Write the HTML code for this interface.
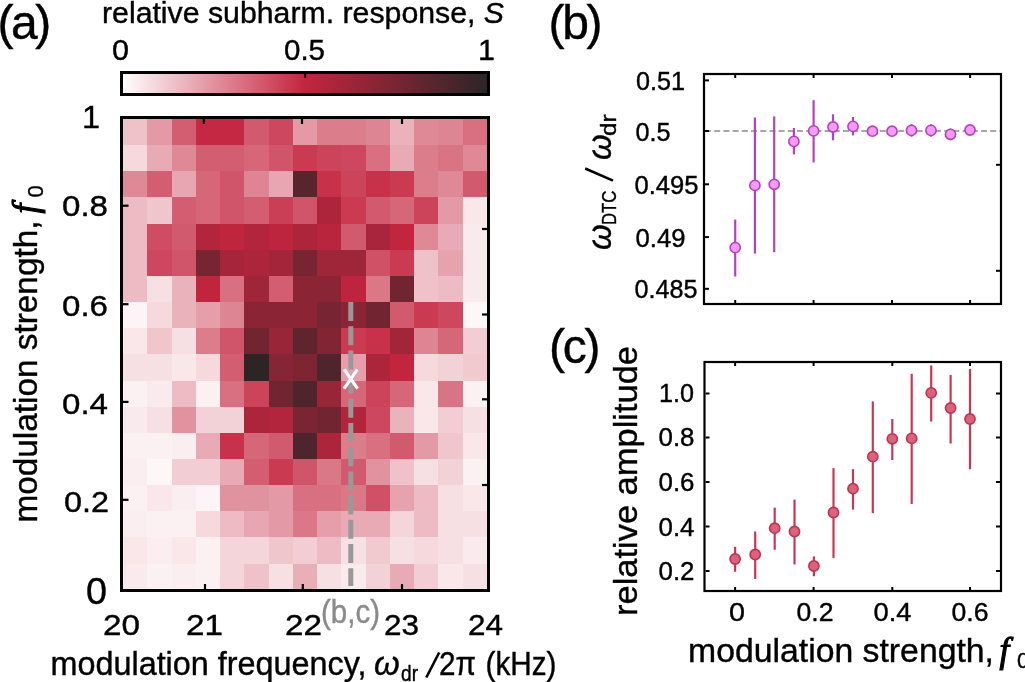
<!DOCTYPE html>
<html><head><meta charset="utf-8">
<style>
html,body{margin:0;padding:0;background:#fff;width:1025px;height:682px;overflow:hidden}
svg{display:block;will-change:transform}
text{font-family:"Liberation Sans",sans-serif;fill:#000;stroke:#000;stroke-width:0.4px}
</style></head><body>
<svg width="1025" height="682" viewBox="0 0 1025 682">
<defs>
<linearGradient id="cb" x1="0" y1="0" x2="1" y2="0">
<stop offset="0.00" stop-color="#ffffff"/>
<stop offset="0.10" stop-color="#f3d3d9"/>
<stop offset="0.20" stop-color="#e7a8b2"/>
<stop offset="0.30" stop-color="#dc7c8c"/>
<stop offset="0.40" stop-color="#d05165"/>
<stop offset="0.50" stop-color="#c4253f"/>
<stop offset="0.60" stop-color="#a5253a"/>
<stop offset="0.70" stop-color="#872535"/>
<stop offset="0.80" stop-color="#682530"/>
<stop offset="0.90" stop-color="#4a252b"/>
<stop offset="1.00" stop-color="#2b2526"/>
</linearGradient>
</defs>
<!-- panel a -->
<text x="-2.5" y="39" font-size="48" letter-spacing="-2.5">(a)</text>
<text x="102" y="22.5" font-size="30" textLength="402" lengthAdjust="spacingAndGlyphs">relative subharm. response, <tspan font-style="italic">S</tspan></text>
<text x="112" y="59.5" font-size="30" textLength="17" lengthAdjust="spacingAndGlyphs">0</text>
<text x="284" y="59.5" font-size="30" textLength="41" lengthAdjust="spacingAndGlyphs">0.5</text>
<text x="478" y="59.5" font-size="30" textLength="17" lengthAdjust="spacingAndGlyphs">1</text>
<rect x="121.5" y="72.5" width="367" height="22" fill="url(#cb)" stroke="#000" stroke-width="3"/>
<line x1="305.2" y1="74" x2="305.2" y2="78" stroke="#000" stroke-width="2"/>

<g shape-rendering="crispEdges">
<rect x="123.00" y="119.00" width="24.67" height="26.55" fill="#efc2ca"/>
<rect x="147.27" y="119.00" width="24.67" height="26.55" fill="#e49aa6"/>
<rect x="171.53" y="119.00" width="24.67" height="26.55" fill="#d35e71"/>
<rect x="195.80" y="119.00" width="24.67" height="26.55" fill="#c52842"/>
<rect x="220.07" y="119.00" width="24.67" height="26.55" fill="#c52842"/>
<rect x="244.33" y="119.00" width="24.67" height="26.55" fill="#d25a6e"/>
<rect x="268.60" y="119.00" width="24.67" height="26.55" fill="#cd485e"/>
<rect x="292.87" y="119.00" width="24.67" height="26.55" fill="#e49aa6"/>
<rect x="317.13" y="119.00" width="24.67" height="26.55" fill="#dc7d8c"/>
<rect x="341.40" y="119.00" width="24.67" height="26.55" fill="#dc7d8c"/>
<rect x="365.67" y="119.00" width="24.67" height="26.55" fill="#de8594"/>
<rect x="389.93" y="119.00" width="24.67" height="26.55" fill="#eab3bc"/>
<rect x="414.20" y="119.00" width="24.67" height="26.55" fill="#df8997"/>
<rect x="438.47" y="119.00" width="24.67" height="26.55" fill="#de8594"/>
<rect x="462.73" y="119.00" width="24.67" height="26.55" fill="#d87081"/>
<rect x="123.00" y="145.15" width="24.67" height="26.55" fill="#f5d9dd"/>
<rect x="147.27" y="145.15" width="24.67" height="26.55" fill="#e8abb5"/>
<rect x="171.53" y="145.15" width="24.67" height="26.55" fill="#df8997"/>
<rect x="195.80" y="145.15" width="24.67" height="26.55" fill="#d35e71"/>
<rect x="220.07" y="145.15" width="24.67" height="26.55" fill="#d35e71"/>
<rect x="244.33" y="145.15" width="24.67" height="26.55" fill="#d66779"/>
<rect x="268.60" y="145.15" width="24.67" height="26.55" fill="#d1556a"/>
<rect x="292.87" y="145.15" width="24.67" height="26.55" fill="#ca3b52"/>
<rect x="317.13" y="145.15" width="24.67" height="26.55" fill="#cc445a"/>
<rect x="341.40" y="145.15" width="24.67" height="26.55" fill="#cd485e"/>
<rect x="365.67" y="145.15" width="24.67" height="26.55" fill="#d87081"/>
<rect x="389.93" y="145.15" width="24.67" height="26.55" fill="#e8abb5"/>
<rect x="414.20" y="145.15" width="24.67" height="26.55" fill="#dc7d8c"/>
<rect x="438.47" y="145.15" width="24.67" height="26.55" fill="#d97485"/>
<rect x="462.73" y="145.15" width="24.67" height="26.55" fill="#df8997"/>
<rect x="123.00" y="171.30" width="24.67" height="26.55" fill="#df8997"/>
<rect x="147.27" y="171.30" width="24.67" height="26.55" fill="#d35e71"/>
<rect x="171.53" y="171.30" width="24.67" height="26.55" fill="#e7a6b1"/>
<rect x="195.80" y="171.30" width="24.67" height="26.55" fill="#d66779"/>
<rect x="220.07" y="171.30" width="24.67" height="26.55" fill="#d1556a"/>
<rect x="244.33" y="171.30" width="24.67" height="26.55" fill="#de8594"/>
<rect x="268.60" y="171.30" width="24.67" height="26.55" fill="#e7a6b1"/>
<rect x="292.87" y="171.30" width="24.67" height="26.55" fill="#58252d"/>
<rect x="317.13" y="171.30" width="24.67" height="26.55" fill="#c7314a"/>
<rect x="341.40" y="171.30" width="24.67" height="26.55" fill="#cc445a"/>
<rect x="365.67" y="171.30" width="24.67" height="26.55" fill="#c7314a"/>
<rect x="389.93" y="171.30" width="24.67" height="26.55" fill="#ca3b52"/>
<rect x="414.20" y="171.30" width="24.67" height="26.55" fill="#dc7d8c"/>
<rect x="438.47" y="171.30" width="24.67" height="26.55" fill="#df8997"/>
<rect x="462.73" y="171.30" width="24.67" height="26.55" fill="#d25a6e"/>
<rect x="123.00" y="197.45" width="24.67" height="26.55" fill="#ecbbc3"/>
<rect x="147.27" y="197.45" width="24.67" height="26.55" fill="#f0c6cd"/>
<rect x="171.53" y="197.45" width="24.67" height="26.55" fill="#d35e71"/>
<rect x="195.80" y="197.45" width="24.67" height="26.55" fill="#d66779"/>
<rect x="220.07" y="197.45" width="24.67" height="26.55" fill="#d1556a"/>
<rect x="244.33" y="197.45" width="24.67" height="26.55" fill="#d35e71"/>
<rect x="268.60" y="197.45" width="24.67" height="26.55" fill="#cb3f56"/>
<rect x="292.87" y="197.45" width="24.67" height="26.55" fill="#d1556a"/>
<rect x="317.13" y="197.45" width="24.67" height="26.55" fill="#ac253b"/>
<rect x="341.40" y="197.45" width="24.67" height="26.55" fill="#ca3b52"/>
<rect x="365.67" y="197.45" width="24.67" height="26.55" fill="#d25a6e"/>
<rect x="389.93" y="197.45" width="24.67" height="26.55" fill="#d66779"/>
<rect x="414.20" y="197.45" width="24.67" height="26.55" fill="#cc445a"/>
<rect x="438.47" y="197.45" width="24.67" height="26.55" fill="#e49aa6"/>
<rect x="462.73" y="197.45" width="24.67" height="26.55" fill="#f9e7ea"/>
<rect x="123.00" y="223.60" width="24.67" height="26.55" fill="#ecbbc3"/>
<rect x="147.27" y="223.60" width="24.67" height="26.55" fill="#cf4c62"/>
<rect x="171.53" y="223.60" width="24.67" height="26.55" fill="#d25a6e"/>
<rect x="195.80" y="223.60" width="24.67" height="26.55" fill="#b3253c"/>
<rect x="220.07" y="223.60" width="24.67" height="26.55" fill="#c0253e"/>
<rect x="244.33" y="223.60" width="24.67" height="26.55" fill="#b3253c"/>
<rect x="268.60" y="223.60" width="24.67" height="26.55" fill="#bd253e"/>
<rect x="292.87" y="223.60" width="24.67" height="26.55" fill="#ac253b"/>
<rect x="317.13" y="223.60" width="24.67" height="26.55" fill="#b9253d"/>
<rect x="341.40" y="223.60" width="24.67" height="26.55" fill="#d25a6e"/>
<rect x="365.67" y="223.60" width="24.67" height="26.55" fill="#a9253b"/>
<rect x="389.93" y="223.60" width="24.67" height="26.55" fill="#c3253f"/>
<rect x="414.20" y="223.60" width="24.67" height="26.55" fill="#df8997"/>
<rect x="438.47" y="223.60" width="24.67" height="26.55" fill="#e8abb5"/>
<rect x="462.73" y="223.60" width="24.67" height="26.55" fill="#f9ebed"/>
<rect x="123.00" y="249.75" width="24.67" height="26.55" fill="#ecbbc3"/>
<rect x="147.27" y="249.75" width="24.67" height="26.55" fill="#cd485e"/>
<rect x="171.53" y="249.75" width="24.67" height="26.55" fill="#d1556a"/>
<rect x="195.80" y="249.75" width="24.67" height="26.55" fill="#772532"/>
<rect x="220.07" y="249.75" width="24.67" height="26.55" fill="#a6253a"/>
<rect x="244.33" y="249.75" width="24.67" height="26.55" fill="#ac253b"/>
<rect x="268.60" y="249.75" width="24.67" height="26.55" fill="#a3253a"/>
<rect x="292.87" y="249.75" width="24.67" height="26.55" fill="#772532"/>
<rect x="317.13" y="249.75" width="24.67" height="26.55" fill="#9f2539"/>
<rect x="341.40" y="249.75" width="24.67" height="26.55" fill="#9f2539"/>
<rect x="365.67" y="249.75" width="24.67" height="26.55" fill="#d05166"/>
<rect x="389.93" y="249.75" width="24.67" height="26.55" fill="#ca3b52"/>
<rect x="414.20" y="249.75" width="24.67" height="26.55" fill="#efc2ca"/>
<rect x="438.47" y="249.75" width="24.67" height="26.55" fill="#e6a2ad"/>
<rect x="462.73" y="249.75" width="24.67" height="26.55" fill="#f9ebed"/>
<rect x="123.00" y="275.90" width="24.67" height="26.55" fill="#ecbbc3"/>
<rect x="147.27" y="275.90" width="24.67" height="26.55" fill="#f7e0e4"/>
<rect x="171.53" y="275.90" width="24.67" height="26.55" fill="#eab3bc"/>
<rect x="195.80" y="275.90" width="24.67" height="26.55" fill="#c0253e"/>
<rect x="220.07" y="275.90" width="24.67" height="26.55" fill="#d87081"/>
<rect x="244.33" y="275.90" width="24.67" height="26.55" fill="#9f2539"/>
<rect x="268.60" y="275.90" width="24.67" height="26.55" fill="#d35e71"/>
<rect x="292.87" y="275.90" width="24.67" height="26.55" fill="#8b2536"/>
<rect x="317.13" y="275.90" width="24.67" height="26.55" fill="#8b2536"/>
<rect x="341.40" y="275.90" width="24.67" height="26.55" fill="#bd253e"/>
<rect x="365.67" y="275.90" width="24.67" height="26.55" fill="#db7888"/>
<rect x="389.93" y="275.90" width="24.67" height="26.55" fill="#702531"/>
<rect x="414.20" y="275.90" width="24.67" height="26.55" fill="#efc2ca"/>
<rect x="438.47" y="275.90" width="24.67" height="26.55" fill="#ecbbc3"/>
<rect x="462.73" y="275.90" width="24.67" height="26.55" fill="#f9ebed"/>
<rect x="123.00" y="302.05" width="24.67" height="26.55" fill="#fcf4f6"/>
<rect x="147.27" y="302.05" width="24.67" height="26.55" fill="#f5d9dd"/>
<rect x="171.53" y="302.05" width="24.67" height="26.55" fill="#eab3bc"/>
<rect x="195.80" y="302.05" width="24.67" height="26.55" fill="#e59eaa"/>
<rect x="220.07" y="302.05" width="24.67" height="26.55" fill="#de8594"/>
<rect x="244.33" y="302.05" width="24.67" height="26.55" fill="#8b2536"/>
<rect x="268.60" y="302.05" width="24.67" height="26.55" fill="#8b2536"/>
<rect x="292.87" y="302.05" width="24.67" height="26.55" fill="#8b2536"/>
<rect x="317.13" y="302.05" width="24.67" height="26.55" fill="#772532"/>
<rect x="341.40" y="302.05" width="24.67" height="26.55" fill="#8b2536"/>
<rect x="365.67" y="302.05" width="24.67" height="26.55" fill="#702531"/>
<rect x="389.93" y="302.05" width="24.67" height="26.55" fill="#d25a6e"/>
<rect x="414.20" y="302.05" width="24.67" height="26.55" fill="#ca3b52"/>
<rect x="438.47" y="302.05" width="24.67" height="26.55" fill="#cd485e"/>
<rect x="462.73" y="302.05" width="24.67" height="26.55" fill="#fdf7f8"/>
<rect x="123.00" y="328.20" width="24.67" height="26.55" fill="#f9e7ea"/>
<rect x="147.27" y="328.20" width="24.67" height="26.55" fill="#f0c6cd"/>
<rect x="171.53" y="328.20" width="24.67" height="26.55" fill="#f7e0e4"/>
<rect x="195.80" y="328.20" width="24.67" height="26.55" fill="#dc7d8c"/>
<rect x="220.07" y="328.20" width="24.67" height="26.55" fill="#d1556a"/>
<rect x="244.33" y="328.20" width="24.67" height="26.55" fill="#702531"/>
<rect x="268.60" y="328.20" width="24.67" height="26.55" fill="#992538"/>
<rect x="292.87" y="328.20" width="24.67" height="26.55" fill="#5f252f"/>
<rect x="317.13" y="328.20" width="24.67" height="26.55" fill="#812534"/>
<rect x="341.40" y="328.20" width="24.67" height="26.55" fill="#ca3b52"/>
<rect x="365.67" y="328.20" width="24.67" height="26.55" fill="#c7314a"/>
<rect x="389.93" y="328.20" width="24.67" height="26.55" fill="#a3253a"/>
<rect x="414.20" y="328.20" width="24.67" height="26.55" fill="#de8594"/>
<rect x="438.47" y="328.20" width="24.67" height="26.55" fill="#d66779"/>
<rect x="462.73" y="328.20" width="24.67" height="26.55" fill="#f2ced4"/>
<rect x="123.00" y="354.35" width="24.67" height="26.55" fill="#f7e0e4"/>
<rect x="147.27" y="354.35" width="24.67" height="26.55" fill="#f7e0e4"/>
<rect x="171.53" y="354.35" width="24.67" height="26.55" fill="#f9e7ea"/>
<rect x="195.80" y="354.35" width="24.67" height="26.55" fill="#f5d9dd"/>
<rect x="220.07" y="354.35" width="24.67" height="26.55" fill="#d35e71"/>
<rect x="244.33" y="354.35" width="24.67" height="26.55" fill="#2b2526"/>
<rect x="268.60" y="354.35" width="24.67" height="26.55" fill="#852535"/>
<rect x="292.87" y="354.35" width="24.67" height="26.55" fill="#7e2534"/>
<rect x="317.13" y="354.35" width="24.67" height="26.55" fill="#4e252c"/>
<rect x="341.40" y="354.35" width="24.67" height="26.55" fill="#e59eaa"/>
<rect x="365.67" y="354.35" width="24.67" height="26.55" fill="#ac253b"/>
<rect x="389.93" y="354.35" width="24.67" height="26.55" fill="#c3253f"/>
<rect x="414.20" y="354.35" width="24.67" height="26.55" fill="#f5d9dd"/>
<rect x="438.47" y="354.35" width="24.67" height="26.55" fill="#f3d2d7"/>
<rect x="462.73" y="354.35" width="24.67" height="26.55" fill="#f1cad0"/>
<rect x="123.00" y="380.50" width="24.67" height="26.55" fill="#fbf1f3"/>
<rect x="147.27" y="380.50" width="24.67" height="26.55" fill="#f9ebed"/>
<rect x="171.53" y="380.50" width="24.67" height="26.55" fill="#ecbbc3"/>
<rect x="195.80" y="380.50" width="24.67" height="26.55" fill="#fbf1f3"/>
<rect x="220.07" y="380.50" width="24.67" height="26.55" fill="#d87081"/>
<rect x="244.33" y="380.50" width="24.67" height="26.55" fill="#cc445a"/>
<rect x="268.60" y="380.50" width="24.67" height="26.55" fill="#702531"/>
<rect x="292.87" y="380.50" width="24.67" height="26.55" fill="#4e252c"/>
<rect x="317.13" y="380.50" width="24.67" height="26.55" fill="#992538"/>
<rect x="341.40" y="380.50" width="24.67" height="26.55" fill="#d66779"/>
<rect x="365.67" y="380.50" width="24.67" height="26.55" fill="#cc445a"/>
<rect x="389.93" y="380.50" width="24.67" height="26.55" fill="#d66779"/>
<rect x="414.20" y="380.50" width="24.67" height="26.55" fill="#f9e7ea"/>
<rect x="438.47" y="380.50" width="24.67" height="26.55" fill="#d97485"/>
<rect x="462.73" y="380.50" width="24.67" height="26.55" fill="#fbf1f3"/>
<rect x="123.00" y="406.65" width="24.67" height="26.55" fill="#f9ebed"/>
<rect x="147.27" y="406.65" width="24.67" height="26.55" fill="#f7e0e4"/>
<rect x="171.53" y="406.65" width="24.67" height="26.55" fill="#e1929f"/>
<rect x="195.80" y="406.65" width="24.67" height="26.55" fill="#f3d2d7"/>
<rect x="220.07" y="406.65" width="24.67" height="26.55" fill="#f3d2d7"/>
<rect x="244.33" y="406.65" width="24.67" height="26.55" fill="#ac253b"/>
<rect x="268.60" y="406.65" width="24.67" height="26.55" fill="#b3253c"/>
<rect x="292.87" y="406.65" width="24.67" height="26.55" fill="#7a2533"/>
<rect x="317.13" y="406.65" width="24.67" height="26.55" fill="#702531"/>
<rect x="341.40" y="406.65" width="24.67" height="26.55" fill="#b3253c"/>
<rect x="365.67" y="406.65" width="24.67" height="26.55" fill="#cd485e"/>
<rect x="389.93" y="406.65" width="24.67" height="26.55" fill="#eab3bc"/>
<rect x="414.20" y="406.65" width="24.67" height="26.55" fill="#f9e7ea"/>
<rect x="438.47" y="406.65" width="24.67" height="26.55" fill="#f2ced4"/>
<rect x="462.73" y="406.65" width="24.67" height="26.55" fill="#f7e0e4"/>
<rect x="123.00" y="432.80" width="24.67" height="26.55" fill="#fbf1f3"/>
<rect x="147.27" y="432.80" width="24.67" height="26.55" fill="#fbf1f3"/>
<rect x="171.53" y="432.80" width="24.67" height="26.55" fill="#faeef0"/>
<rect x="195.80" y="432.80" width="24.67" height="26.55" fill="#e8abb5"/>
<rect x="220.07" y="432.80" width="24.67" height="26.55" fill="#c7314a"/>
<rect x="244.33" y="432.80" width="24.67" height="26.55" fill="#d66779"/>
<rect x="268.60" y="432.80" width="24.67" height="26.55" fill="#d25a6e"/>
<rect x="292.87" y="432.80" width="24.67" height="26.55" fill="#4e252c"/>
<rect x="317.13" y="432.80" width="24.67" height="26.55" fill="#ac253b"/>
<rect x="341.40" y="432.80" width="24.67" height="26.55" fill="#dc7d8c"/>
<rect x="365.67" y="432.80" width="24.67" height="26.55" fill="#d87081"/>
<rect x="389.93" y="432.80" width="24.67" height="26.55" fill="#d25a6e"/>
<rect x="414.20" y="432.80" width="24.67" height="26.55" fill="#e49aa6"/>
<rect x="438.47" y="432.80" width="24.67" height="26.55" fill="#f0c6cd"/>
<rect x="462.73" y="432.80" width="24.67" height="26.55" fill="#f9e7ea"/>
<rect x="123.00" y="458.95" width="24.67" height="26.55" fill="#faeef0"/>
<rect x="147.27" y="458.95" width="24.67" height="26.55" fill="#fdf7f8"/>
<rect x="171.53" y="458.95" width="24.67" height="26.55" fill="#f2ced4"/>
<rect x="195.80" y="458.95" width="24.67" height="26.55" fill="#f2ced4"/>
<rect x="220.07" y="458.95" width="24.67" height="26.55" fill="#e8abb5"/>
<rect x="244.33" y="458.95" width="24.67" height="26.55" fill="#d35e71"/>
<rect x="268.60" y="458.95" width="24.67" height="26.55" fill="#ca3b52"/>
<rect x="292.87" y="458.95" width="24.67" height="26.55" fill="#d1556a"/>
<rect x="317.13" y="458.95" width="24.67" height="26.55" fill="#db7888"/>
<rect x="341.40" y="458.95" width="24.67" height="26.55" fill="#d25a6e"/>
<rect x="365.67" y="458.95" width="24.67" height="26.55" fill="#e1929f"/>
<rect x="389.93" y="458.95" width="24.67" height="26.55" fill="#efc2ca"/>
<rect x="414.20" y="458.95" width="24.67" height="26.55" fill="#f7e0e4"/>
<rect x="438.47" y="458.95" width="24.67" height="26.55" fill="#f3d2d7"/>
<rect x="462.73" y="458.95" width="24.67" height="26.55" fill="#fbf1f3"/>
<rect x="123.00" y="485.10" width="24.67" height="26.55" fill="#fbf1f3"/>
<rect x="147.27" y="485.10" width="24.67" height="26.55" fill="#f9e7ea"/>
<rect x="171.53" y="485.10" width="24.67" height="26.55" fill="#faeef0"/>
<rect x="195.80" y="485.10" width="24.67" height="26.55" fill="#fcf4f6"/>
<rect x="220.07" y="485.10" width="24.67" height="26.55" fill="#e1929f"/>
<rect x="244.33" y="485.10" width="24.67" height="26.55" fill="#e1929f"/>
<rect x="268.60" y="485.10" width="24.67" height="26.55" fill="#e49aa6"/>
<rect x="292.87" y="485.10" width="24.67" height="26.55" fill="#d87081"/>
<rect x="317.13" y="485.10" width="24.67" height="26.55" fill="#d87081"/>
<rect x="341.40" y="485.10" width="24.67" height="26.55" fill="#db7888"/>
<rect x="365.67" y="485.10" width="24.67" height="26.55" fill="#d05166"/>
<rect x="389.93" y="485.10" width="24.67" height="26.55" fill="#e6a2ad"/>
<rect x="414.20" y="485.10" width="24.67" height="26.55" fill="#ecbbc3"/>
<rect x="438.47" y="485.10" width="24.67" height="26.55" fill="#f7e0e4"/>
<rect x="462.73" y="485.10" width="24.67" height="26.55" fill="#f9e7ea"/>
<rect x="123.00" y="511.25" width="24.67" height="26.55" fill="#faeef0"/>
<rect x="147.27" y="511.25" width="24.67" height="26.55" fill="#fbf1f3"/>
<rect x="171.53" y="511.25" width="24.67" height="26.55" fill="#fbf1f3"/>
<rect x="195.80" y="511.25" width="24.67" height="26.55" fill="#f5d9dd"/>
<rect x="220.07" y="511.25" width="24.67" height="26.55" fill="#ecbbc3"/>
<rect x="244.33" y="511.25" width="24.67" height="26.55" fill="#e7a6b1"/>
<rect x="268.60" y="511.25" width="24.67" height="26.55" fill="#e49aa6"/>
<rect x="292.87" y="511.25" width="24.67" height="26.55" fill="#db7888"/>
<rect x="317.13" y="511.25" width="24.67" height="26.55" fill="#e59eaa"/>
<rect x="341.40" y="511.25" width="24.67" height="26.55" fill="#e8abb5"/>
<rect x="365.67" y="511.25" width="24.67" height="26.55" fill="#e8abb5"/>
<rect x="389.93" y="511.25" width="24.67" height="26.55" fill="#f4d5da"/>
<rect x="414.20" y="511.25" width="24.67" height="26.55" fill="#ecbbc3"/>
<rect x="438.47" y="511.25" width="24.67" height="26.55" fill="#f7e0e4"/>
<rect x="462.73" y="511.25" width="24.67" height="26.55" fill="#f7e0e4"/>
<rect x="123.00" y="537.40" width="24.67" height="26.55" fill="#f9e7ea"/>
<rect x="147.27" y="537.40" width="24.67" height="26.55" fill="#faeef0"/>
<rect x="171.53" y="537.40" width="24.67" height="26.55" fill="#f9e7ea"/>
<rect x="195.80" y="537.40" width="24.67" height="26.55" fill="#fbf1f3"/>
<rect x="220.07" y="537.40" width="24.67" height="26.55" fill="#f4d5da"/>
<rect x="244.33" y="537.40" width="24.67" height="26.55" fill="#f4d5da"/>
<rect x="268.60" y="537.40" width="24.67" height="26.55" fill="#f0c6cd"/>
<rect x="292.87" y="537.40" width="24.67" height="26.55" fill="#f2ced4"/>
<rect x="317.13" y="537.40" width="24.67" height="26.55" fill="#ecbbc3"/>
<rect x="341.40" y="537.40" width="24.67" height="26.55" fill="#f7e0e4"/>
<rect x="365.67" y="537.40" width="24.67" height="26.55" fill="#f1cad0"/>
<rect x="389.93" y="537.40" width="24.67" height="26.55" fill="#f7e0e4"/>
<rect x="414.20" y="537.40" width="24.67" height="26.55" fill="#f5d9dd"/>
<rect x="438.47" y="537.40" width="24.67" height="26.55" fill="#f7e0e4"/>
<rect x="462.73" y="537.40" width="24.67" height="26.55" fill="#f9ebed"/>
<rect x="123.00" y="563.55" width="24.67" height="26.55" fill="#f9ebed"/>
<rect x="147.27" y="563.55" width="24.67" height="26.55" fill="#fbf1f3"/>
<rect x="171.53" y="563.55" width="24.67" height="26.55" fill="#faeef0"/>
<rect x="195.80" y="563.55" width="24.67" height="26.55" fill="#fbf1f3"/>
<rect x="220.07" y="563.55" width="24.67" height="26.55" fill="#f4d5da"/>
<rect x="244.33" y="563.55" width="24.67" height="26.55" fill="#efc2ca"/>
<rect x="268.60" y="563.55" width="24.67" height="26.55" fill="#f7e0e4"/>
<rect x="292.87" y="563.55" width="24.67" height="26.55" fill="#e9afb8"/>
<rect x="317.13" y="563.55" width="24.67" height="26.55" fill="#f7e0e4"/>
<rect x="341.40" y="563.55" width="24.67" height="26.55" fill="#f9ebed"/>
<rect x="365.67" y="563.55" width="24.67" height="26.55" fill="#f3d2d7"/>
<rect x="389.93" y="563.55" width="24.67" height="26.55" fill="#e8abb5"/>
<rect x="414.20" y="563.55" width="24.67" height="26.55" fill="#f2ced4"/>
<rect x="438.47" y="563.55" width="24.67" height="26.55" fill="#f9e7ea"/>
<rect x="462.73" y="563.55" width="24.67" height="26.55" fill="#f7e0e4"/>
</g>
<rect x="121.5" y="117.5" width="367" height="473" fill="none" stroke="#000" stroke-width="3"/>
<g stroke="#000" stroke-width="2.2">
<line x1="203.8" y1="119" x2="203.8" y2="124"/><line x1="302" y1="119" x2="302" y2="124"/><line x1="402" y1="119" x2="402" y2="124"/>
<line x1="205" y1="589" x2="205" y2="584"/><line x1="302.8" y1="589" x2="302.8" y2="584"/><line x1="402" y1="589" x2="402" y2="584"/>
<line x1="123" y1="205.7" x2="128.5" y2="205.7"/><line x1="123" y1="304.2" x2="128.5" y2="304.2"/><line x1="123" y1="401.9" x2="128.5" y2="401.9"/><line x1="123" y1="499.8" x2="128.5" y2="499.8"/>
<line x1="487" y1="229" x2="482" y2="229"/><line x1="487" y1="314.5" x2="482" y2="314.5"/><line x1="487" y1="399.3" x2="482" y2="399.3"/><line x1="487" y1="485" x2="482" y2="485"/>
</g>
<line x1="350.8" y1="302" x2="350.8" y2="586" stroke="#999" stroke-width="5" stroke-dasharray="19 5.2"/>
<g stroke="#fff" stroke-width="3.2" stroke-linecap="butt"><line x1="344.2" y1="369.4" x2="357.6" y2="388.6"/><line x1="357.4" y1="369.4" x2="344" y2="388.6"/></g>

<text x="82" y="127.9" font-size="32" textLength="18" lengthAdjust="spacingAndGlyphs">1</text>
<text x="62" y="215.8" font-size="30" textLength="46" lengthAdjust="spacingAndGlyphs">0.8</text>
<text x="62" y="315.7" font-size="30" textLength="46" lengthAdjust="spacingAndGlyphs">0.6</text>
<text x="62" y="414.2" font-size="30" textLength="46" lengthAdjust="spacingAndGlyphs">0.4</text>
<text x="64" y="512.2" font-size="30" textLength="45" lengthAdjust="spacingAndGlyphs">0.2</text>
<text x="86" y="603.5" font-size="37.7">0</text>
<text x="103" y="635" font-size="30" textLength="37" lengthAdjust="spacingAndGlyphs">20</text>
<text x="186" y="635" font-size="30" textLength="37" lengthAdjust="spacingAndGlyphs">21</text>
<text x="285" y="635" font-size="30" textLength="37" lengthAdjust="spacingAndGlyphs">22</text>
<text x="384" y="635" font-size="30" textLength="35" lengthAdjust="spacingAndGlyphs">23</text>
<text x="468" y="635" font-size="30" textLength="35" lengthAdjust="spacingAndGlyphs">24</text>
<text x="321" y="622.5" font-size="33" style="fill:#8a8a8a;stroke:#8a8a8a" textLength="59" lengthAdjust="spacingAndGlyphs">(b,c)</text>
<text x="50.5" y="674.5" font-size="33" textLength="316" lengthAdjust="spacingAndGlyphs">modulation frequency,</text>
<text x="374" y="674.5" font-size="33" font-style="italic">ω</text>
<text x="401" y="680.5" font-size="22" textLength="17" lengthAdjust="spacingAndGlyphs">dr</text>
<line x1="426.3" y1="677.5" x2="439.2" y2="652.5" stroke="#000" stroke-width="2.6"/>
<text x="439" y="674.5" font-size="33" textLength="37" lengthAdjust="spacingAndGlyphs">2π</text>
<text x="485.5" y="674.5" font-size="33" textLength="71" lengthAdjust="spacingAndGlyphs">(kHz)</text>
<g transform="translate(36.7,522.5) rotate(-90)"><text x="0" y="0" font-size="33" textLength="302" lengthAdjust="spacingAndGlyphs">modulation strength,</text><text x="309" y="0" font-size="35" style="font-family:'Liberation Serif';stroke:#000;stroke-width:1.1" font-style="italic">f</text><text x="325" y="6" font-size="22">0</text></g>

<!-- panel b -->
<text x="548.5" y="39.3" font-size="48" letter-spacing="-2.3">(b)</text>
<rect x="704" y="74" width="297" height="230" fill="none" stroke="#000" stroke-width="2.2"/>
<line x1="705" y1="131" x2="1000" y2="131" stroke="#8a8a8a" stroke-width="1.3" stroke-dasharray="6 3.2"/>
<g stroke="#000" stroke-width="2">
<line x1="735.2" y1="75" x2="735.2" y2="78"/><line x1="813.6" y1="75" x2="813.6" y2="78"/><line x1="892" y1="75" x2="892" y2="78"/><line x1="970.1" y1="75" x2="970.1" y2="78"/>
<line x1="735.2" y1="303" x2="735.2" y2="300"/><line x1="813.6" y1="303" x2="813.6" y2="300"/><line x1="892" y1="303" x2="892" y2="300"/><line x1="970.1" y1="303" x2="970.1" y2="300"/>
<line x1="705" y1="80.4" x2="709" y2="80.4"/><line x1="705" y1="131" x2="709" y2="131"/><line x1="705" y1="184.3" x2="709" y2="184.3"/><line x1="705" y1="237.1" x2="709" y2="237.1"/><line x1="705" y1="288.8" x2="709" y2="288.8"/>
<line x1="1000" y1="164.8" x2="996" y2="164.8"/><line x1="1000" y1="270.8" x2="996" y2="270.8"/>
</g>
<line x1="735.2" y1="219.5" x2="735.2" y2="276.5" stroke="#b540c0" stroke-width="2.2"/>
<line x1="754.9" y1="117.5" x2="754.9" y2="253.6" stroke="#b540c0" stroke-width="2.2"/>
<line x1="774.2" y1="116.4" x2="774.2" y2="252.2" stroke="#b540c0" stroke-width="2.2"/>
<line x1="793.9" y1="128" x2="793.9" y2="154.4" stroke="#b540c0" stroke-width="2.2"/>
<line x1="813.6" y1="100.2" x2="813.6" y2="162.5" stroke="#b540c0" stroke-width="2.2"/>
<line x1="833" y1="114.3" x2="833" y2="140.3" stroke="#b540c0" stroke-width="2.2"/>
<line x1="853" y1="117" x2="853" y2="135.4" stroke="#b540c0" stroke-width="2.2"/>
<line x1="911.5" y1="124.2" x2="911.5" y2="136.7" stroke="#b540c0" stroke-width="2.2"/>
<line x1="931" y1="124.2" x2="931" y2="136.7" stroke="#b540c0" stroke-width="2.2"/>
<line x1="950.5" y1="128.6" x2="950.5" y2="140.3" stroke="#b540c0" stroke-width="2.2"/>
<circle cx="735.2" cy="247.6" r="5.1" fill="#f59af5" stroke="#b540c0" stroke-width="1.6"/>
<circle cx="754.9" cy="185.4" r="5.1" fill="#f59af5" stroke="#b540c0" stroke-width="1.6"/>
<circle cx="774.2" cy="184.3" r="5.1" fill="#f59af5" stroke="#b540c0" stroke-width="1.6"/>
<circle cx="793.9" cy="141.4" r="5.1" fill="#f59af5" stroke="#b540c0" stroke-width="1.6"/>
<circle cx="813.6" cy="130.9" r="5.1" fill="#f59af5" stroke="#b540c0" stroke-width="1.6"/>
<circle cx="833" cy="127" r="5.1" fill="#f59af5" stroke="#b540c0" stroke-width="1.6"/>
<circle cx="853" cy="126.4" r="5.1" fill="#f59af5" stroke="#b540c0" stroke-width="1.6"/>
<circle cx="872.5" cy="131.2" r="5.1" fill="#f59af5" stroke="#b540c0" stroke-width="1.6"/>
<circle cx="892" cy="131.2" r="5.1" fill="#f59af5" stroke="#b540c0" stroke-width="1.6"/>
<circle cx="911.5" cy="130.4" r="5.1" fill="#f59af5" stroke="#b540c0" stroke-width="1.6"/>
<circle cx="931" cy="130.4" r="5.1" fill="#f59af5" stroke="#b540c0" stroke-width="1.6"/>
<circle cx="950.5" cy="134.3" r="5.1" fill="#f59af5" stroke="#b540c0" stroke-width="1.6"/>
<circle cx="970" cy="130" r="5.1" fill="#f59af5" stroke="#b540c0" stroke-width="1.6"/>
<text x="636" y="89.9" font-size="25" textLength="49" lengthAdjust="spacingAndGlyphs">0.51</text>
<text x="635.5" y="140.9" font-size="25" textLength="35" lengthAdjust="spacingAndGlyphs">0.5</text>
<text x="634.5" y="193.8" font-size="25" textLength="64" lengthAdjust="spacingAndGlyphs">0.495</text>
<text x="635.5" y="246.5" font-size="25" textLength="50" lengthAdjust="spacingAndGlyphs">0.49</text>
<text x="634.5" y="298.3" font-size="25" textLength="63" lengthAdjust="spacingAndGlyphs">0.485</text>
<g transform="translate(610.5,250) rotate(-90)">
<text x="0" y="0" font-size="33" font-style="italic">ω</text>
<text x="25" y="5.5" font-size="20" textLength="34.5" lengthAdjust="spacingAndGlyphs">DTC</text>

<text x="90" y="0" font-size="33" font-style="italic">ω</text>
<text x="114" y="5.9" font-size="22" textLength="21.5" lengthAdjust="spacingAndGlyphs">dr</text>
</g>
<line x1="585.2" y1="168.5" x2="613" y2="180.6" stroke="#000" stroke-width="2.6"/>

<!-- panel c -->
<text x="549" y="363" font-size="48" letter-spacing="-2.3">(c)</text>
<rect x="704.5" y="362" width="296.5" height="229" fill="none" stroke="#000" stroke-width="2.2"/>
<g stroke="#000" stroke-width="2">
<line x1="735.1" y1="363" x2="735.1" y2="366"/><line x1="813.6" y1="363" x2="813.6" y2="366"/><line x1="892.3" y1="363" x2="892.3" y2="366"/><line x1="970" y1="363" x2="970" y2="366"/>
<line x1="735.1" y1="590" x2="735.1" y2="587"/><line x1="813.6" y1="590" x2="813.6" y2="587"/><line x1="892.3" y1="590" x2="892.3" y2="587"/><line x1="970" y1="590" x2="970" y2="587"/>
<line x1="705.5" y1="393.5" x2="709.5" y2="393.5"/><line x1="705.5" y1="437.5" x2="709.5" y2="437.5"/><line x1="705.5" y1="482" x2="709.5" y2="482"/><line x1="705.5" y1="526.5" x2="709.5" y2="526.5"/><line x1="705.5" y1="571" x2="709.5" y2="571"/>
<line x1="1000" y1="393.5" x2="996" y2="393.5"/><line x1="1000" y1="437.5" x2="996" y2="437.5"/><line x1="1000" y1="482" x2="996" y2="482"/><line x1="1000" y1="526.5" x2="996" y2="526.5"/><line x1="1000" y1="571" x2="996" y2="571"/>
</g>
<line x1="735.1" y1="546.8" x2="735.1" y2="571.8" stroke="#cc3656" stroke-width="2.2"/>
<line x1="755.2" y1="531.5" x2="755.2" y2="579" stroke="#cc3656" stroke-width="2.2"/>
<line x1="774.7" y1="507.6" x2="774.7" y2="549.8" stroke="#cc3656" stroke-width="2.2"/>
<line x1="794.5" y1="499.6" x2="794.5" y2="564.4" stroke="#cc3656" stroke-width="2.2"/>
<line x1="813.9" y1="556.4" x2="813.9" y2="576.2" stroke="#cc3656" stroke-width="2.2"/>
<line x1="833.5" y1="468.1" x2="833.5" y2="558" stroke="#cc3656" stroke-width="2.2"/>
<line x1="853" y1="469.2" x2="853" y2="509.6" stroke="#cc3656" stroke-width="2.2"/>
<line x1="872.8" y1="401.4" x2="872.8" y2="513.2" stroke="#cc3656" stroke-width="2.2"/>
<line x1="892.3" y1="419" x2="892.3" y2="460" stroke="#cc3656" stroke-width="2.2"/>
<line x1="911.7" y1="373.8" x2="911.7" y2="504" stroke="#cc3656" stroke-width="2.2"/>
<line x1="931.2" y1="365.4" x2="931.2" y2="421.5" stroke="#cc3656" stroke-width="2.2"/>
<line x1="950.6" y1="375" x2="950.6" y2="443.5" stroke="#cc3656" stroke-width="2.2"/>
<line x1="970" y1="369" x2="970" y2="469.2" stroke="#cc3656" stroke-width="2.2"/>
<circle cx="735.1" cy="559" r="5.1" fill="#d9647a" stroke="#c43253" stroke-width="1.6"/>
<circle cx="755.2" cy="554.5" r="5.1" fill="#d9647a" stroke="#c43253" stroke-width="1.6"/>
<circle cx="774.7" cy="528.2" r="5.1" fill="#d9647a" stroke="#c43253" stroke-width="1.6"/>
<circle cx="794.5" cy="531.5" r="5.1" fill="#d9647a" stroke="#c43253" stroke-width="1.6"/>
<circle cx="813.9" cy="566" r="5.1" fill="#d9647a" stroke="#c43253" stroke-width="1.6"/>
<circle cx="833.5" cy="512.5" r="5.1" fill="#d9647a" stroke="#c43253" stroke-width="1.6"/>
<circle cx="853" cy="488.7" r="5.1" fill="#d9647a" stroke="#c43253" stroke-width="1.6"/>
<circle cx="872.8" cy="456.7" r="5.1" fill="#d9647a" stroke="#c43253" stroke-width="1.6"/>
<circle cx="892.3" cy="438.8" r="5.1" fill="#d9647a" stroke="#c43253" stroke-width="1.6"/>
<circle cx="911.7" cy="438.4" r="5.1" fill="#d9647a" stroke="#c43253" stroke-width="1.6"/>
<circle cx="931.2" cy="392.9" r="5.1" fill="#d9647a" stroke="#c43253" stroke-width="1.6"/>
<circle cx="950.6" cy="408" r="5.1" fill="#d9647a" stroke="#c43253" stroke-width="1.6"/>
<circle cx="970" cy="419" r="5.1" fill="#d9647a" stroke="#c43253" stroke-width="1.6"/>
<text x="659" y="402.4" font-size="25" textLength="35" lengthAdjust="spacingAndGlyphs">1.0</text>
<text x="658.5" y="446.3" font-size="25" textLength="36" lengthAdjust="spacingAndGlyphs">0.8</text>
<text x="658.5" y="491" font-size="25" textLength="36" lengthAdjust="spacingAndGlyphs">0.6</text>
<text x="658.5" y="535.5" font-size="25" textLength="36" lengthAdjust="spacingAndGlyphs">0.4</text>
<text x="658.5" y="580" font-size="25" textLength="36" lengthAdjust="spacingAndGlyphs">0.2</text>
<text x="729" y="621.1" font-size="26" textLength="16" lengthAdjust="spacingAndGlyphs">0</text>
<text x="796.5" y="621.1" font-size="26" textLength="37" lengthAdjust="spacingAndGlyphs">0.2</text>
<text x="873.5" y="621.1" font-size="26" textLength="38" lengthAdjust="spacingAndGlyphs">0.4</text>
<text x="951.5" y="621.1" font-size="26" textLength="37" lengthAdjust="spacingAndGlyphs">0.6</text>
<text x="688" y="662" font-size="34" textLength="306" lengthAdjust="spacingAndGlyphs">modulation strength,</text><text x="999.5" y="662" font-size="35" style="font-family:'Liberation Serif';stroke:#000;stroke-width:1.1" font-style="italic">f</text><text x="1017" y="668" font-size="22">0</text>
<text transform="translate(637.2,616) rotate(-90)" x="0" y="0" font-size="34" textLength="270" lengthAdjust="spacingAndGlyphs">relative amplitude</text>
</svg>
</body></html>
